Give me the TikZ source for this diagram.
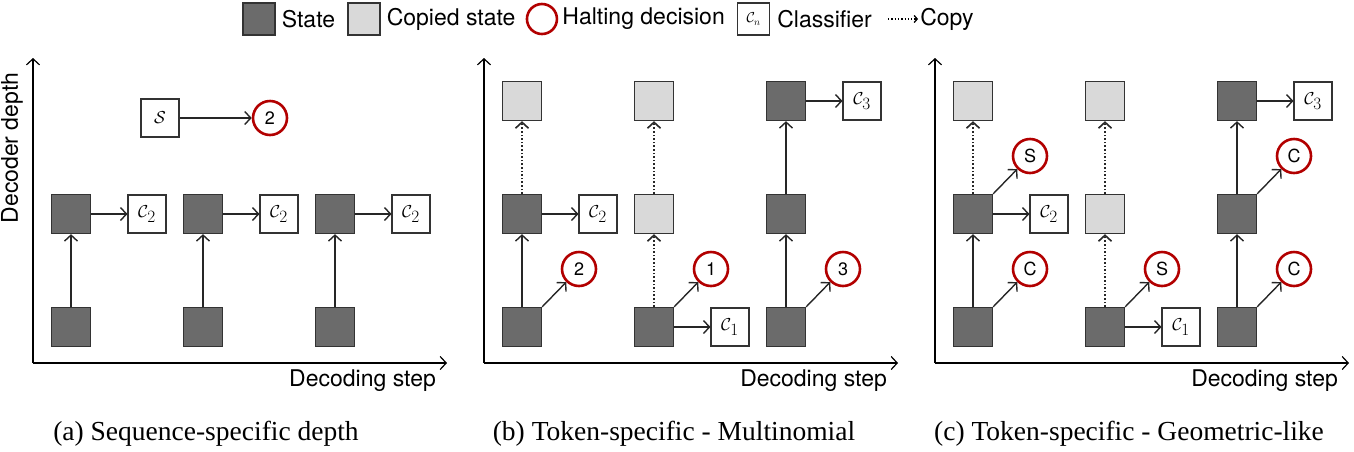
\documentclass[tikz,border=0pt]{standalone}
\usepackage{fontspec}
\setmainfont{TeX Gyre Heros}
\newfontfamily\capfont{Liberation Serif}
\usetikzlibrary{arrows.meta}
\newcommand{\cls}[1]{$\mathcal{C}_{\textstyle #1}$}
\begin{document}
\begin{tikzpicture}[x=1pt,y=-1pt,
 >={Straight Barb[length=6pt,width=13pt]},
 st/.style={draw=black!80,line width=1.3pt,fill=black!58,minimum size=39pt,inner sep=0},
 cp/.style={draw=black!80,line width=1.3pt,fill=black!15,minimum size=39pt,inner sep=0},
 cl/.style={draw=black!80,line width=1.1pt,fill=white,minimum size=38pt,inner sep=0,font=\fontsize{19}{19}\selectfont},
 hd/.style={circle,draw=red!70!black,line width=2.6pt,minimum size=34pt,inner sep=0,font=\fontsize{18}{18}\selectfont},
 ar/.style={->,line width=1.4pt,black!85},
 cy/.style={->,dotted,line width=1.6pt,black!85},
 ax/.style={->,line width=1.2pt},
 lab/.style={font=\fontsize{23}{23}\selectfont,inner sep=0},
 capt/.style={font=\capfont\fontsize{27.5}{27.5}\selectfont}]
\useasboundingbox (0,0) rectangle (1354,451);
% legend
\node[st,minimum size=32pt] (l1) at (259,19) {};
\node[lab,anchor=west] (l1t) at ([xshift=6pt]l1.east) {State};
\node[cp,minimum size=32pt,anchor=west] (l2) at ([xshift=12pt]l1t.east) {};
\node[lab,anchor=west] (l2t) at ([xshift=6pt]l2.east) {Copied state};
\node[hd,minimum size=30pt,anchor=west] (l3) at ([xshift=10pt]l2t.east) {};
\node[lab,anchor=west] (l3t) at ([xshift=4pt]l3.east) {Halting decision};
\node[cl,minimum size=32pt,font=\fontsize{14}{14}\selectfont,anchor=west] (l4) at ([xshift=12pt]l3t.east) {$\mathcal{C}_n$};
\node[lab,anchor=west] (l4t) at ([xshift=7pt]l4.east) {Classifier};
\coordinate (l5a) at ([xshift=16pt]l4t.east); \coordinate (l5b) at ([xshift=46pt]l4t.east);
\draw[->,dotted,line width=1.3pt,>={Straight Barb[length=3pt,width=7pt]}] (l5a) -- (l5b);
\node[lab,anchor=west] (l5t) at ([xshift=2pt]l5b) {Copy};
% axes
\foreach \o/\n in {0/a,451/b,902/c}{
 \coordinate (o\n) at (33+\o,363);
 \coordinate (y\n) at (33+\o,58);
 \coordinate (x\n) at (447+\o,363);
 \draw[ax] (o\n) -- (y\n);
 \draw[ax] (o\n) -- (x\n);
 \node[lab,anchor=north east] (dl\n) at (436+\o,370) {Decoding step};
}
\node[lab,rotate=90] (dd) at (12,148) {Decoder depth};
% panel a
\node[cl] (S) at (160,118) {$\mathcal{S}$};
\node[hd] (h0) at (270,118) {2};
\draw[ar] (S) -- (h0);
\foreach \x/\i in {71/1,203/2,335/3}{
 \node[st] (ab\i) at (\x,327) {};
 \node[st] (am\i) at (\x,214) {};
 \node[cl] (ac\i) at (\x+76,214) {\cls{2}};
 \draw[ar] (ab\i) -- (am\i);
 \draw[ar] (am\i) -- (ac\i);
}
% panel b
\node[st] (b1b) at (522,327) {}; \node[st] (b1m) at (522,214) {}; \node[cp] (b1t) at (522,101) {};
\node[st] (b2b) at (654,327) {}; \node[cp] (b2m) at (654,214) {}; \node[cp] (b2t) at (654,101) {};
\node[st] (b3b) at (786,327) {}; \node[st] (b3m) at (786,214) {}; \node[st] (b3t) at (786,101) {};
\node[cl] (bc2) at (598,214) {\cls{2}};
\node[cl] (bc1) at (730,327) {\cls{1}};
\node[cl] (bc3) at (862,101) {\cls{3}};
\node[hd] (bh1) at (579,269) {2};
\node[hd] (bh2) at (711,269) {1};
\node[hd] (bh3) at (843,269) {3};
\draw[ar] (b1b) -- (b1m); \draw[cy] (b1m) -- (b1t); \draw[ar] (b1m) -- (bc2); \draw[ar] (b1b.north east) -- (bh1);
\draw[cy] (b2b) -- (b2m); \draw[cy] (b2m) -- (b2t); \draw[ar] (b2b) -- (bc1); \draw[ar] (b2b.north east) -- (bh2);
\draw[ar] (b3b) -- (b3m); \draw[ar] (b3m) -- (b3t); \draw[ar] (b3t) -- (bc3); \draw[ar] (b3b.north east) -- (bh3);
% panel c
\node[st] (c1b) at (973,327) {}; \node[st] (c1m) at (973,214) {}; \node[cp] (c1t) at (973,101) {};
\node[st] (c2b) at (1105,327) {}; \node[cp] (c2m) at (1105,214) {}; \node[cp] (c2t) at (1105,101) {};
\node[st] (c3b) at (1237,327) {}; \node[st] (c3m) at (1237,214) {}; \node[st] (c3t) at (1237,101) {};
\node[cl] (cc2) at (1049,214) {\cls{2}};
\node[cl] (cc1) at (1181,327) {\cls{1}};
\node[cl] (cc3) at (1313,101) {\cls{3}};
\node[hd] (ch1) at (1030,269) {C};
\node[hd] (ch2) at (1030,156) {S};
\node[hd] (ch3) at (1162,269) {S};
\node[hd] (ch4) at (1294,269) {C};
\node[hd] (ch5) at (1294,156) {C};
\draw[ar] (c1b) -- (c1m); \draw[cy] (c1m) -- (c1t); \draw[ar] (c1m) -- (cc2);
\draw[ar] (c1b.north east) -- (ch1); \draw[ar] (c1m.north east) -- (ch2);
\draw[cy] (c2b) -- (c2m); \draw[cy] (c2m) -- (c2t); \draw[ar] (c2b) -- (cc1); \draw[ar] (c2b.north east) -- (ch3);
\draw[ar] (c3b) -- (c3m); \draw[ar] (c3m) -- (c3t); \draw[ar] (c3t) -- (cc3);
\draw[ar] (c3b.north east) -- (ch4); \draw[ar] (c3m.north east) -- (ch5);
% captions
\node[capt] (ca) at (206,434) {(a) Sequence-specific depth};
\node[capt] (cb) at (674,434) {(b) Token-specific - Multinomial};
\node[capt] (cc) at (1129,434) {(c) Token-specific - Geometric-like};
\end{tikzpicture}
\end{document}
